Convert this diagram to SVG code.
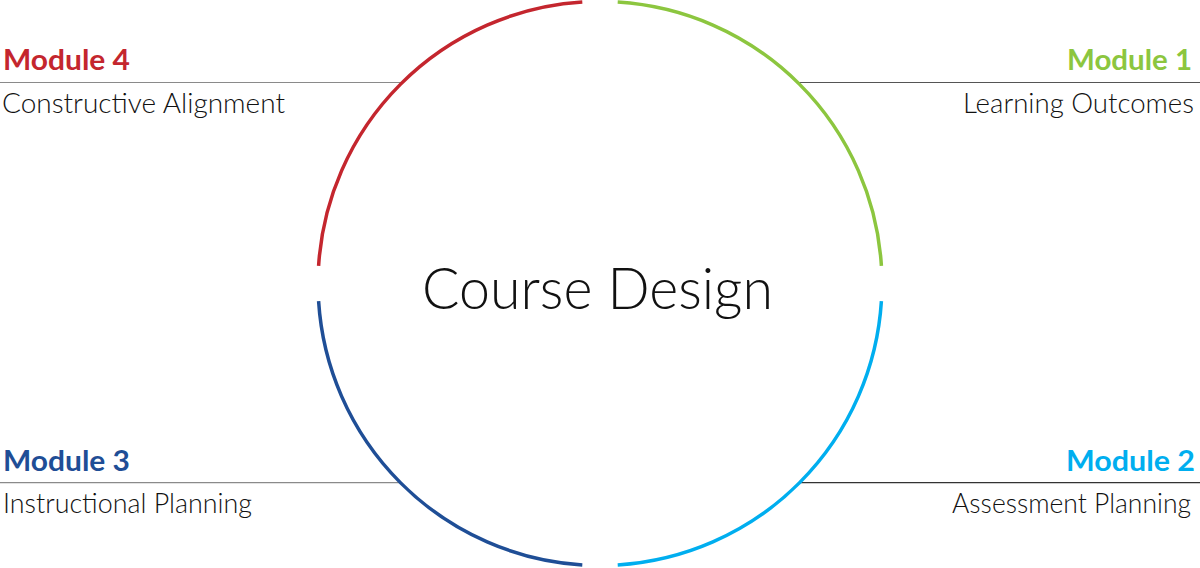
<svg xmlns="http://www.w3.org/2000/svg" width="1200" height="568" viewBox="0 0 1200 568">
<style>
.arc{fill:none;stroke-width:3.5;stroke-linecap:butt}
.rule{stroke-width:1.2}
.mod{font-family:Lato,"Liberation Sans",sans-serif;font-weight:700;font-size:29px}
.sub{font-family:Lato,"Liberation Sans",sans-serif;font-weight:300;font-size:28px;fill:#111}
.title{font-family:Lato,"Liberation Sans",sans-serif;font-weight:300;font-size:57px;fill:#111}
</style>
<rect width="1200" height="568" fill="#fff"/>
<g id="connectors">
<line class="rule" x1="0" y1="82.5" x2="402" y2="82.5" stroke="#8a8a8a"/>
<line class="rule" x1="798" y1="82.5" x2="1200" y2="82.5" stroke="#555"/>
<line class="rule" x1="0" y1="482.7" x2="400" y2="482.7" stroke="#8a8a8a"/>
<line class="rule" x1="800" y1="482.7" x2="1200" y2="482.7" stroke="#333"/>
</g>
<g id="circle">
<path class="arc" stroke="#8cc63f" d="M617.7,2.1 A282,282 0 0 1 881.4,265.8"/>
<path class="arc" stroke="#00aeef" d="M881.4,301.2 A282,282 0 0 1 617.7,564.9"/>
<path class="arc" stroke="#1f4e96" d="M582.3,564.9 A282,282 0 0 1 318.6,301.2"/>
<path class="arc" stroke="#c4262e" d="M318.6,265.8 A282,282 0 0 1 582.3,2.1"/>
</g>
<g id="center">
<text class="title" x="422" y="309" textLength="351" lengthAdjust="spacingAndGlyphs">Course Design</text>
</g>
<g id="module4">
<text class="mod" x="3" y="70" fill="#c4262e" textLength="127" lengthAdjust="spacingAndGlyphs">Module 4</text>
<text class="sub" x="2" y="113" textLength="283" lengthAdjust="spacingAndGlyphs">Constructive Alignment</text>
</g>
<g id="module1">
<text class="mod" x="1067" y="70" fill="#8cc63f" textLength="125" lengthAdjust="spacingAndGlyphs">Module 1</text>
<text class="sub" x="963" y="113" textLength="231" lengthAdjust="spacingAndGlyphs">Learning Outcomes</text>
</g>
<g id="module3">
<text class="mod" x="3" y="471" fill="#1f4e96" textLength="127" lengthAdjust="spacingAndGlyphs">Module 3</text>
<text class="sub" x="3" y="513" textLength="249" lengthAdjust="spacingAndGlyphs">Instructional Planning</text>
</g>
<g id="module2">
<text class="mod" x="1066" y="471" fill="#00aeef" textLength="129" lengthAdjust="spacingAndGlyphs">Module 2</text>
<text class="sub" x="952" y="513" textLength="239" lengthAdjust="spacingAndGlyphs">Assessment Planning</text>
</g>
</svg>
